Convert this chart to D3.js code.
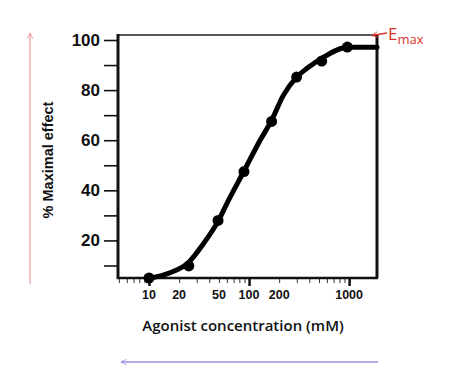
<!DOCTYPE html>
<html>
<head>
<meta charset="utf-8">
<script src="https://cdn.jsdelivr.net/npm/d3@7"></script>
<style>
  body { margin: 0; background: #fff; }
  svg { display: block; }
</style>
</head>
<body>
<div id="chart"></div>
<script>
// measured points (agonist concentration in mM, % maximal effect)
const concentrations = [10, 25, 49, 89, 168, 299, 532, 960];
const effects = [5, 9.8, 28, 47.5, 67.5, 85.2, 91.6, 97.2];

// fitted curve
const curveConc = [10.2, 16.2, 24.7, 34.7, 49.3, 62.1, 87.7, 128.6, 168, 220, 299, 377, 532, 982, 1300, 1900];
const curveEffect = [4.9, 7.1, 11.1, 18.5, 27.8, 35.9, 47.2, 59.9, 67.9, 77.9, 85.2, 88.6, 92.7, 97.1, 97.1, 97.1];

const xTickLabels = [10, 20, 50, 100, 200, 1000];
const xMajor = [10, 100, 1000];
const yTicks = [10, 20, 30, 40, 50, 60, 70, 80, 90, 100];
const yTickLabels = [20, 40, 60, 80, 100];

const W = 474, H = 377;
const plotL = 118, plotR = 377, plotT = 35, plotB = 278;

const svg = d3.select("#chart").append("svg")
    .attr("width", W)
    .attr("height", H);

const x = d3.scaleLog().domain([4.9, 1900]).range([plotL, plotR]);
const y = d3.scaleLinear().domain([5, 102]).range([plotB, plotT]);

// pointe de fleche
const defs = svg.append("defs");
function marker(id, color) {
    defs.append("marker")
        .attr("id", id)
        .attr("viewBox", "0 0 10 10")
        .attr("refX", 9).attr("refY", 5)
        .attr("markerWidth", 7).attr("markerHeight", 7)
        .attr("markerUnits", "userSpaceOnUse")
        .attr("orient", "auto")
        .append("path")
        .attr("d", "M1,1 L9,5 L1,9")
        .attr("fill", "none")
        .attr("stroke", color)
        .attr("stroke-width", 1.2);
}
marker("arrRed", "#ef8a8a");
marker("arrBlue", "#9a92e0");
marker("arrEmax", "#d9342b");

svg.append("line")
    .attr("x1", 30).attr("y1", 284)
    .attr("x2", 30).attr("y2", 33)
    .attr("stroke", "#ef8a8a")
    .attr("stroke-width", 1)
    .attr("marker-end", "url(#arrRed)");

svg.append("line")
    .attr("x1", 378).attr("y1", 362)
    .attr("x2", 121).attr("y2", 362)
    .attr("stroke", "#9a92e0")
    .attr("stroke-width", 1.5)
    .attr("marker-end", "url(#arrBlue)");

// cadre
svg.append("line")
    .attr("x1", plotL).attr("y1", plotT)
    .attr("x2", plotR).attr("y2", plotT)
    .attr("stroke", "#222").attr("stroke-width", 1.5);
svg.append("line")
    .attr("x1", plotR).attr("y1", plotT)
    .attr("x2", plotR).attr("y2", plotB)
    .attr("stroke", "#111").attr("stroke-width", 3);

// axe y
const yAxis = d3.axisLeft(y)
    .tickValues(yTicks)
    .tickSize(14)
    .tickFormat(d => yTickLabels.includes(d) ? d : "");
const gy = svg.append("g")
    .attr("transform", `translate(${plotL},0)`)
    .call(yAxis);
gy.select(".domain").remove();
gy.selectAll(".tick line").attr("stroke", "#111").attr("stroke-width", 1.6);
gy.selectAll(".tick text")
    .attr("x", -18)
    .style("font-family", "'Liberation Sans', Arial, sans-serif")
    .style("font-weight", "bold")
    .style("font-size", "17px")
    .attr("fill", "#111");
svg.append("line")
    .attr("x1", plotL).attr("y1", plotT - 1)
    .attr("x2", plotL).attr("y2", plotB + 1)
    .attr("stroke", "#111").attr("stroke-width", 3);

// axe x (log)
const minor = x.ticks().filter(d => d >= 5 && d <= 1000);
const xAxis = d3.axisBottom(x)
    .tickValues(minor)
    .tickSize(5)
    .tickFormat("");
const gx = svg.append("g")
    .attr("transform", `translate(0,${plotB})`)
    .call(xAxis);
gx.select(".domain").remove();
gx.selectAll(".tick line").attr("stroke", "#333").attr("stroke-width", 1);
gx.selectAll(".tick").filter(d => xMajor.includes(d))
    .select("line").attr("y2", 8).attr("stroke", "#111").attr("stroke-width", 2.5);
svg.append("line")
    .attr("x1", plotL - 1).attr("y1", plotB)
    .attr("x2", plotR + 1).attr("y2", plotB)
    .attr("stroke", "#111").attr("stroke-width", 2.5);

svg.append("g").selectAll("text")
    .data(xTickLabels)
    .join("text")
    .attr("x", d => x(d))
    .attr("y", 299)
    .attr("text-anchor", "middle")
    .style("font-family", "'Liberation Sans', Arial, sans-serif")
    .style("font-weight", "bold")
    .style("font-size", "12.5px")
    .attr("fill", "#111")
    .text(d => d);

// courbe
const line = d3.line()
    .x(d => x(d[0]))
    .y(d => y(d[1]))
    .curve(d3.curveMonotoneX);
svg.append("path")
    .datum(d3.zip(curveConc, curveEffect))
    .attr("d", line)
    .attr("fill", "none")
    .attr("stroke", "#000")
    .attr("stroke-width", 5)
    .attr("stroke-linecap", "round");

// points
svg.append("g").selectAll("circle")
    .data(d3.zip(concentrations, effects))
    .join("circle")
    .attr("cx", d => x(d[0]))
    .attr("cy", d => y(d[1]))
    .attr("r", 5.5)
    .attr("fill", "#000");

// titres
svg.append("text")
    .attr("transform", "translate(53,160) rotate(-90)")
    .attr("text-anchor", "middle")
    .style("font-family", "'Liberation Sans', Arial, sans-serif")
    .style("font-weight", "bold")
    .style("font-size", "14.5px")
    .attr("fill", "#111")
    .text("% Maximal effect");

svg.append("text")
    .attr("x", 243)
    .attr("y", 331)
    .attr("text-anchor", "middle")
    .style("font-family", "'Open Sans', sans-serif")
    .style("font-weight", "600")
    .style("font-size", "15px")
    .attr("fill", "#111")
    .text("Agonist concentration (mM)");

// Emax
svg.append("line")
    .attr("x1", 387).attr("y1", 33)
    .attr("x2", 372).attr("y2", 35.5)
    .attr("stroke", "#d9342b")
    .attr("stroke-width", 1.3)
    .attr("marker-end", "url(#arrEmax)");
const emax = svg.append("text")
    .attr("x", 388)
    .attr("y", 40)
    .style("font-family", "'Open Sans', sans-serif")
    .style("font-size", "17px")
    .attr("fill", "#d9342b");
emax.append("tspan").text("E");
emax.append("tspan")
    .attr("dy", 4)
    .style("font-size", "13px")
    .text("max");
</script>
</body>
</html>
